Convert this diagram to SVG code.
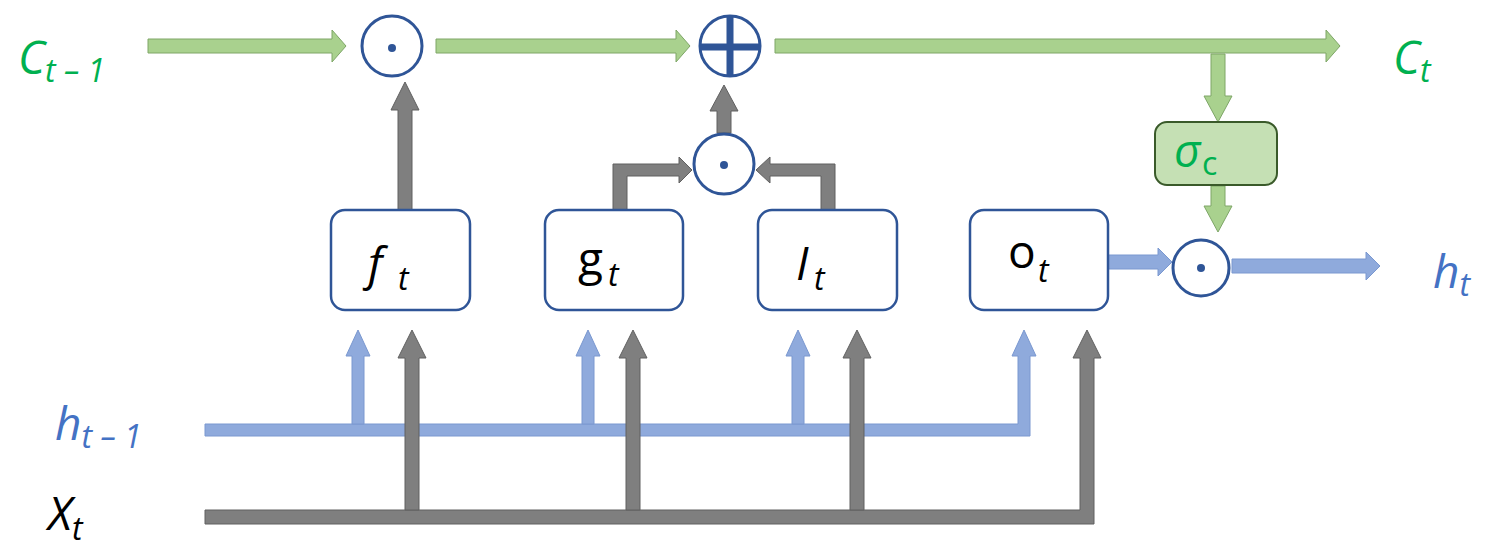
<svg xmlns="http://www.w3.org/2000/svg" width="1497" height="558" viewBox="0 0 1497 558">
<style>
.g{fill:#a9d18e;stroke:#7ea667;stroke-width:1}
.b{fill:#8faadc;stroke:#7a98d0;stroke-width:1}
.k{fill:#7f7f7f;stroke:#606060;stroke-width:1}
.c{fill:#fff;stroke:#2f5597;stroke-width:3}
.box{fill:#fff;stroke:#2f5597;stroke-width:2.5}
.t{font-family:"Open Sans","DejaVu Sans",sans-serif;font-style:italic}
</style>
<g id="connectors">
<path class="g" d="M148 39 H332 V30 L346 46 L332 62 V53 H148 Z"/>
<path class="g" d="M436 39 H676 V30 L690 46 L676 62 V53 H436 Z"/>
<path class="g" d="M775 39 H1326 V30 L1340 46 L1326 62 V53 H775 Z"/>
<path class="g" d="M1211 54 V96 H1204 L1218 122 L1232 96 H1225 V54 Z"/>
<path class="g" d="M1211 186 V206 H1204 L1218 232 L1232 206 H1225 V186 Z"/>
<path class="k" d="M398 210 V110 H391 L405 82 L419 110 H412 V210 Z"/>
<path class="k" d="M717 133 V111 H710 L724 85 L738 111 H731 V133 Z"/>
<path class="k" d="M613 210 V164 H679 V157 L692 170 L679 183 V176 H627 V210 Z"/>
<path class="k" d="M835 210 V164 H770 V157 L756 170 L770 183 V176 H821 V210 Z"/>
<path class="b" d="M1108 255 H1158 V248 L1172 262 L1158 276 V269 H1108 Z"/>
<path class="b" d="M1232 259 H1366 V252 L1380 266 L1366 280 V273 H1232 Z"/>
<path class="b" d="M205 424 H1018 V356 H1012 L1024 330 L1036 356 H1030 V436 H205 Z"/>
<path class="b" d="M352 424 V356 H346 L358 330 L370 356 H364 V424 Z"/>
<path class="b" d="M582 424 V356 H576 L588 330 L600 356 H594 V424 Z"/>
<path class="b" d="M792 424 V356 H786 L798 330 L810 356 H804 V424 Z"/>
<path class="k" d="M205 510 H1080 V358 H1073 L1087 330 L1101 358 H1094 V524 H205 Z"/>
<path class="k" d="M405 510 V358 H398 L412 330 L426 358 H419 V510 Z"/>
<path class="k" d="M626 510 V358 H619 L633 330 L647 358 H640 V510 Z"/>
<path class="k" d="M850 510 V358 H843 L857 330 L871 358 H864 V510 Z"/>
</g>
<g id="mul1"><circle class="c" cx="392" cy="46" r="30"/><circle cx="392" cy="48" r="4" fill="#2f5597"/></g>
<g id="add"><circle class="c" cx="730" cy="46" r="30"/><path d="M730 16 V76 M700 47 H760" stroke="#2f5597" stroke-width="7"/></g>
<g id="mul2"><circle class="c" cx="724" cy="164" r="30"/><circle cx="724" cy="165" r="4" fill="#2f5597"/></g>
<g id="mul3"><circle class="c" cx="1201" cy="268" r="28"/><circle cx="1201" cy="268" r="4" fill="#2f5597"/></g>
<g id="sigma"><rect x="1155" y="122" width="122" height="63" rx="12" fill="#c5e0b4" stroke="#3a5a2a" stroke-width="2"/>
<text x="1174" y="167" class="t" font-size="46" fill="#00b050">σ</text><text x="1202" y="175" font-family="Open Sans,sans-serif" font-size="32" fill="#00b050">c</text></g>
<g id="f"><rect class="box" x="331" y="210" width="139" height="100" rx="14"/><text x="368" y="280" class="t" font-size="46">f</text><text x="398" y="290" class="t" font-size="32">t</text></g>
<g id="g"><rect class="box" x="545" y="210" width="138" height="100" rx="14"/><text x="578" y="275" font-family="Open Sans,sans-serif" font-size="46">g</text><text x="608" y="286" class="t" font-size="32">t</text></g>
<g id="i"><rect class="box" x="758" y="210" width="139" height="100" rx="14"/><text x="796" y="280" class="t" font-size="46">I</text><text x="814" y="290" class="t" font-size="32">t</text></g>
<g id="o"><rect class="box" x="970" y="210" width="138" height="100" rx="14"/><text x="1008" y="268" font-family="Open Sans,sans-serif" font-size="46">o</text><text x="1038" y="282" class="t" font-size="32">t</text></g>
<g id="labels">
<text x="18" y="74" class="t" font-size="46" fill="#00b050">C<tspan font-size="32" dy="8">t – 1</tspan></text>
<text x="1393" y="74" class="t" font-size="46" fill="#00b050">C<tspan font-size="32" dy="8">t</tspan></text>
<text x="1433" y="288" class="t" font-size="46" fill="#4472c4">h<tspan font-size="32" dy="8">t</tspan></text>
<text x="55" y="440" class="t" font-size="46" fill="#4472c4">h<tspan font-size="32" dy="8">t – 1</tspan></text>
<text x="48" y="530" class="t" font-size="46">X<tspan font-size="32" dy="10">t</tspan></text>
</g>
</svg>
